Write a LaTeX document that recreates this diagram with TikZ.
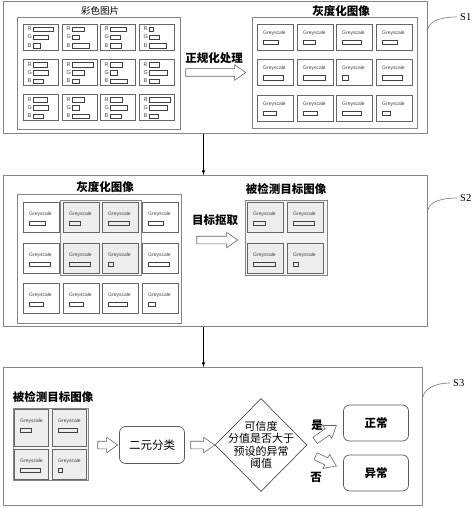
\documentclass[tikz,border=0pt]{standalone}
\usepackage{fontspec}
\setmainfont{Liberation Serif}
\setsansfont{Liberation Sans}
\newfontfamily\cjk{Noto Sans CJK SC}
\usetikzlibrary{shapes.geometric,shapes.arrows}

\definecolor{framegray}{gray}{0.52}
\definecolor{cellgray}{gray}{0.40}
\definecolor{lightfill}{gray}{0.93}

\tikzset{
  frame/.style={draw=framegray, line width=0.9pt, inner sep=0pt, anchor=north west},
  box/.style={draw=framegray, line width=0.8pt},
  cell/.style={draw=cellgray, line width=0.7pt},
  hicell/.style={draw=cellgray, line width=1pt, fill=lightfill},
  bar/.style={draw=black!75, line width=0.7pt},
  tinytext/.style={font=\sffamily\fontsize{5}{5.5}\selectfont, text=black!75, inner sep=0pt, anchor=west},
  rgbtext/.style={font=\sffamily\fontsize{5.5}{6}\selectfont, text=black!75, inner sep=0pt, anchor=west},
  title/.style={font=\cjk\bfseries\fontsize{11.5}{13}\selectfont, inner sep=0pt},
  hollow/.style={single arrow, draw=black!60, fill=white, line width=0.6pt,
    single arrow head extend=4pt, single arrow head indent=0pt, single arrow tip angle=70,
    inner sep=0pt, text height=7pt, text depth=0pt, minimum width=0pt},
  roundbox/.style={draw=black!65, line width=0.7pt, rounded corners=6pt,
    minimum width=65pt, minimum height=37pt, font=\cjk\fontsize{11.5}{13}\selectfont},
  steplabel/.style={font=\fontsize{10.5}{12}\selectfont, inner sep=0pt, anchor=west},
  arr/.style={->, >=latex, line width=0.6pt},
}

% colour tile: name (corner x,y) (R:G:B bar widths)
\def\rgbcell#1(#2,#3)(#4:#5:#6){
  \draw[cell] (#2,#3) rectangle ++(35,26);
  \node[rgbtext] (#1r) at (#2+4.5,#3+5) {R};
  \node[rgbtext] (#1g) at (#2+4.5,#3+13) {G};
  \node[rgbtext] (#1b) at (#2+4.5,#3+21.5) {B};
  \draw[bar] (#2+10,#3+3) rectangle ++(#4,4.5);
  \draw[bar] (#2+10,#3+11) rectangle ++(#5,4.5);
  \draw[bar] (#2+10,#3+19.5) rectangle ++(#6,4.5);
}
% grey tile: [style] name (corner x,y) (width:height:bar width)
\def\greycell[#1]#2(#3,#4)(#5:#6:#7){
  \draw[#1] (#3,#4) rectangle ++(#5,#6);
  \node[tinytext] (#2) at (#3+6,{#4+min(#6-17,12)}) {Greyscale};
  \draw[bar] (#3+6,{#4+min(#6-17,12)+7}) rectangle ++(#7,4.5);
}

\begin{document}
\begin{tikzpicture}[x=1pt,y=-1pt]
  \useasboundingbox (0,0) rectangle (474,508);

  %%%%% S1 %%%%%
  \node[frame, minimum width=424pt, minimum height=132pt] (s1) at (3,1) {};

  \node[font=\cjk\fontsize{9.5}{11}\selectfont, inner sep=0pt] (colt) at (100,11) {彩色图片};
  \draw[box] (17,17) rectangle (180,129);
  \rgbcell{c11}(23,24)(20:15:7)
  \rgbcell{c12}(62,24)(12:7:17)
  \rgbcell{c13}(100,24)(16:10:11)
  \rgbcell{c14}(139,24)(4:10:17)
  \rgbcell{c21}(23,59.5)(14:15:10)
  \rgbcell{c22}(62,59.5)(21:12:7)
  \rgbcell{c23}(100,59.5)(12:7:17)
  \rgbcell{c24}(139,59.5)(10:18:10)
  \rgbcell{c31}(23,94.5)(14:15:10)
  \rgbcell{c32}(62,94.5)(12:7:17)
  \rgbcell{c33}(100,94.5)(12:17:11)
  \rgbcell{c34}(139,94.5)(21:18:9)

  \node[title] (normt) at (214,58) {正规化处理};
  \node[hollow, minimum height=60pt] (norm) at (213,72.5) {};

  \node[title] (greyt) at (341,11) {灰度化图像};
  \draw[box] (252,17) rectangle (417,128);
  \greycell[cell]{g11}(257,24)(36:26:15)
  \greycell[cell]{g12}(297,24)(36:26:12)
  \greycell[cell]{g13}(336,24)(36:26:19)
  \greycell[cell]{g14}(376,24)(36:26:15)
  \greycell[cell]{g21}(257,59.5)(36:26:20)
  \greycell[cell]{g22}(297,59.5)(36:26:22)
  \greycell[cell]{g23}(336,59.5)(36:26:6)
  \greycell[cell]{g24}(376,59.5)(36:26:20)
  \greycell[cell]{g31}(257,95)(36:26:13)
  \greycell[cell]{g32}(297,95)(36:26:14)
  \greycell[cell]{g33}(336,95)(36:26:19)
  \greycell[cell]{g34}(376,95)(36:26:8)

  \node[steplabel] (l1) at (460,17) {S1};
  \draw[framegray, line width=0.7pt] ([yshift=-28pt]s1.north east) .. controls +(2,-9) and +(-14,0) .. ([xshift=-3pt]l1.west);

  %%%%% S2 %%%%%
  \node[frame, minimum width=424pt, minimum height=151pt] (s2) at (3,175) {};
  \coordinate (d1) at ([xshift=-12pt]s1.south);
  \draw[arr] (d1) -- (d1 |- s2.north);

  \node[title] (greyt2) at (105,187) {灰度化图像};
  \draw[box] (17,194) rectangle (181,323);
  \draw[box, line width=1pt, fill=lightfill!60] (60,200) rectangle (141,275);
  \greycell[cell]{h11}(23,202)(36:30:16)
  \greycell[hicell]{h12}(63,202)(36:30:11)
  \greycell[hicell]{h13}(102,202)(36:30:21)
  \greycell[cell]{h14}(142,202)(36:30:15)
  \greycell[cell]{h21}(23,243)(36:30:21)
  \greycell[hicell]{h22}(63,243)(36:30:21)
  \greycell[hicell]{h23}(102,243)(36:30:5)
  \greycell[cell]{h24}(142,243)(36:30:21)
  \greycell[cell]{h31}(23,283)(36:30:14)
  \greycell[cell]{h32}(63,283)(36:30:14)
  \greycell[cell]{h33}(102,283)(36:30:19)
  \greycell[cell]{h34}(142,283)(36:30:7)

  \node[title] (cropt) at (215,220) {目标抠取};
  \node[hollow, minimum height=41pt] (crop) at (214.5,240) {};

  \node[title] (objt) at (286,189) {被检测目标图像};
  \draw[box, line width=1pt, fill=lightfill!60] (245,200) rectangle (327,275);
  \greycell[hicell]{t11}(247,202)(36:30:12)
  \greycell[hicell]{t12}(287,202)(36:30:21)
  \greycell[hicell]{t21}(247,243)(36:30:22)
  \greycell[hicell]{t22}(287,243)(36:30:5)

  \node[steplabel] (l2) at (460,198) {S2};
  \draw[framegray, line width=0.7pt] ([yshift=-35pt]s2.north east) .. controls +(2,-9) and +(-14,0) .. ([xshift=-3pt]l2.west);

  %%%%% S3 %%%%%
  \node[frame, minimum width=419pt, minimum height=138pt] (s3) at (3,367) {};
  \coordinate (d2) at ([xshift=-12pt]s2.south);
  \draw[arr] (d2) -- (d2 |- s3.north);

  \node[title] (objt2) at (53,397) {被检测目标图像};
  \draw[box, line width=1pt, fill=lightfill!60] (13,408) rectangle (88,480);
  \greycell[hicell]{u11}(14,409)(34:37:11)
  \greycell[hicell]{u12}(52,409)(34:37:19)
  \greycell[hicell]{u21}(14,449)(34:30:20)
  \greycell[hicell]{u22}(52,449)(34:30:4)

  \node[hollow, minimum height=20pt] (a1) at (105,445) {};
  \node[roundbox] (bin) at (152,445) {二元分类};
  \node[hollow, minimum height=24pt] (a2) at (200,445) {};

  \node[diamond, draw=black!70, line width=0.7pt, minimum width=92pt, minimum height=93pt, inner sep=0pt] (dec) at (261,445) {};
  \node[font=\cjk\fontsize{11}{12.5}\selectfont, align=center, inner sep=0pt] (dect) at (dec.center) {可信度\\分值是否大于\\预设的异常\\阈值};

  \node[hollow, minimum height=26pt, rotate=35] (yes) at (323.5,434.5) {};
  \node[hollow, minimum height=23pt, rotate=-25] (no) at (323.5,460) {};
  \node[title] (yest) at (317,425) {是};
  \node[title] (not) at (316,477) {否};

  \node[roundbox, minimum height=36pt, font=\cjk\bfseries\fontsize{11.5}{13}\selectfont] (ok) at (376,423) {正常};
  \node[roundbox, minimum height=36pt, font=\cjk\bfseries\fontsize{11.5}{13}\selectfont] (bad) at (376,473) {异常};

  \node[steplabel] (l3) at (453,383) {S3};
  \draw[framegray, line width=0.7pt] ([yshift=-30pt]s3.north east) .. controls +(2,-9) and +(-14,0) .. ([xshift=-3pt]l3.west);
\end{tikzpicture}
\end{document}
